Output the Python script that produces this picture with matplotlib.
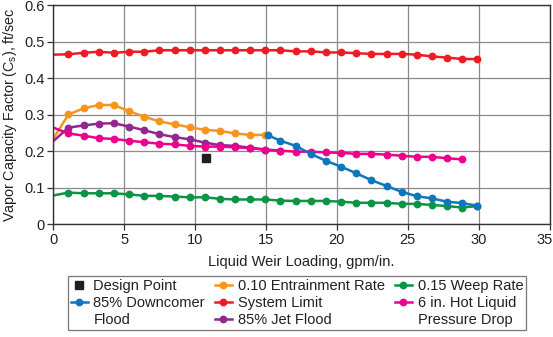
import matplotlib.pyplot as plt
from matplotlib.lines import Line2D
from matplotlib.transforms import ScaledTranslation

plt.rcParams['font.family'] = ['Liberation Sans', 'DejaVu Sans']

# Liquid weir loading, gpm/in. (first point at 0 is drawn without a marker)
carga = [0, 1.07, 2.14, 3.2, 4.27, 5.34, 6.41, 7.48, 8.55, 9.62, 10.68, 11.75,
         12.82, 13.89, 14.95, 16.02, 17.09, 18.16, 19.23, 20.29, 21.36, 22.43,
         23.5, 24.57, 25.64, 26.7, 27.77, 28.84, 29.91]

limite_sistema = [0.465, 0.466, 0.470, 0.473, 0.470, 0.473, 0.473, 0.477, 0.477,
                  0.477, 0.477, 0.477, 0.477, 0.477, 0.477, 0.477, 0.474, 0.474,
                  0.471, 0.471, 0.469, 0.467, 0.467, 0.467, 0.465, 0.460, 0.457,
                  0.453, 0.453]

arrastre = [0.235, 0.301, 0.318, 0.327, 0.327, 0.310, 0.295, 0.282, 0.274, 0.266,
            0.259, 0.256, 0.249, 0.245, 0.245]

inundacion_chorro = [0.228, 0.265, 0.271, 0.276, 0.277, 0.268, 0.258, 0.247, 0.239,
                     0.233, 0.224, 0.217, 0.215, 0.210, 0.205, 0.202]

caida_presion = [0.265, 0.249, 0.243, 0.236, 0.234, 0.229, 0.225, 0.221, 0.219,
                 0.215, 0.213, 0.213, 0.211, 0.209, 0.204, 0.202, 0.199, 0.199,
                 0.197, 0.196, 0.193, 0.193, 0.191, 0.188, 0.185, 0.185, 0.181,
                 0.178]

carga_bajante = [15.15, 16.02, 17.09, 18.16, 19.23, 20.29, 21.36, 22.43, 23.5,
                 24.57, 25.64, 26.7, 27.77, 28.84, 29.91]
inundacion_bajante = [0.244, 0.229, 0.215, 0.193, 0.174, 0.158, 0.140, 0.121, 0.105,
                      0.089, 0.077, 0.071, 0.062, 0.058, 0.051]

goteo = [0.079, 0.087, 0.085, 0.085, 0.085, 0.082, 0.078, 0.078, 0.076, 0.074,
         0.074, 0.070, 0.068, 0.068, 0.068, 0.065, 0.064, 0.064, 0.064, 0.062,
         0.059, 0.059, 0.059, 0.056, 0.056, 0.053, 0.050, 0.046, 0.050]

punto_diseno = (10.77, 0.181)

colores = {
    'rojo': '#ed1c24',
    'naranja': '#f7941d',
    'azul': '#0e76bc',
    'verde': '#0b9444',
    'morado': '#92278f',
    'rosa': '#ec008c',
}

fig = plt.figure(figsize=(5.53, 3.37), dpi=100)
ax = fig.add_axes([0.0964, 0.3344, 0.8974, 0.6496])

estilo = dict(marker='o', markersize=4.6, linewidth=1.8)


def serie(x, y, color, etiqueta, saltar_primero=True):
    marcas = list(range(1, len(y))) if saltar_primero else None
    return ax.plot(x[:len(y)], y, color=color, label=etiqueta,
                   markevery=marcas, **estilo)[0]


l_goteo = serie(carga, goteo, colores['verde'], '0.15 Weep Rate')
l_sistema = serie(carga, limite_sistema, colores['rojo'], 'System Limit')
l_arrastre = serie(carga, arrastre, colores['naranja'], '0.10 Entrainment Rate')
l_chorro = serie(carga, inundacion_chorro, colores['morado'], '85% Jet Flood')
l_presion = serie(carga, caida_presion, colores['rosa'], '6 in. Hot Liquid')
l_bajante = serie(carga_bajante, inundacion_bajante, colores['azul'],
                  '85% Downcomer', saltar_primero=False)
l_diseno, = ax.plot([punto_diseno[0]], [punto_diseno[1]], 's', color='#231f20',
                    markersize=5.5, linestyle='none', label='Design Point')

ax.set_xlim(0, 35)
ax.set_ylim(0, 0.6)
ax.set_xticks(range(0, 36, 5))
ax.set_yticks([0, 0.1, 0.2, 0.3, 0.4, 0.5, 0.6])
ax.set_yticklabels(['0', '0.1', '0.2', '0.3', '0.4', '0.5', '0.6'])
ax.grid(True, color='#8a8a8a', linewidth=0.9)
ax.set_axisbelow(True)
for lado in ax.spines.values():
    lado.set_color('#333333')
    lado.set_linewidth(1.0)
ax.tick_params(labelsize=10.5, length=4, width=0.9, color='#333333',
               labelcolor='#231f20', pad=2)

# keep the "35" label inside the canvas
ultimo = ax.get_xticklabels()[-1]
ultimo.set_transform(ultimo.get_transform() +
                     ScaledTranslation(-5 / 100, 0, fig.dpi_scale_trans))

ax.set_xlabel('Liquid Weir Loading, gpm/in.', fontsize=10.5, color='#231f20',
              labelpad=6)
ax.set_ylabel('Vapor Capacity Factor (C$_\\mathregular{s}$), ft/sec', fontsize=10.3,
              color='#231f20', labelpad=4)

vacio = Line2D([], [], linestyle='none', marker=None)
manijas = [l_diseno, l_bajante, vacio,
           l_arrastre, l_sistema, l_chorro,
           l_goteo, l_presion, vacio]
textos = ['Design Point', '85% Downcomer', 'Flood',
          '0.10 Entrainment Rate', 'System Limit', '85% Jet Flood',
          '0.15 Weep Rate', '6 in. Hot Liquid', 'Pressure Drop']
leyenda = fig.legend(manijas, textos, ncol=3, loc='lower center',
                     bbox_to_anchor=(0.537, 0.0), fontsize=10.5,
                     frameon=True, fancybox=False, edgecolor='#555555',
                     handlelength=1.15, handletextpad=0.4, columnspacing=0.7,
                     labelspacing=0.2, borderpad=0.2)
leyenda.get_frame().set_linewidth(0.9)
for t in leyenda.get_texts():
    t.set_color('#231f20')

fig.savefig('out.png', dpi=100)
